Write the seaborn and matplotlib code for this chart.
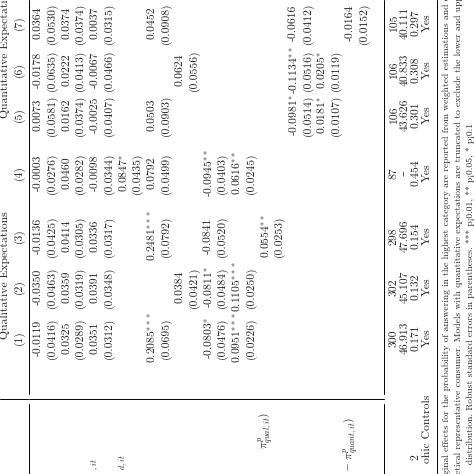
import matplotlib
matplotlib.use("Agg")
import matplotlib.pyplot as plt
import seaborn as sns

# regression table, rotated 90 degrees in the source page
col_labels = ["(1)", "(2)", "(3)", "(4)", "(5)", "(6)", "(7)"]
# each entry: (variable slot, coefficient, standard error)
col1 = [(0, "-0.0119", "(0.0416)"), (1, "0.0325", "(0.0289)"), (2, "0.0351", "(0.0312)"),
        (4, "0.2085***", "(0.0695)"), (6, "-0.0803*", "(0.0476)"), (7, "0.0951***", "(0.0226)")]
col2 = [(0, "-0.0350", "(0.0463)"), (1, "0.0359", "(0.0319)"), (2, "0.0391", "(0.0348)"),
        (5, "0.0384", "(0.0421)"), (6, "-0.0811*", "(0.0484)"), (7, "0.1105***", "(0.0250)")]
col3 = [(0, "-0.0136", "(0.0425)"), (1, "0.0414", "(0.0305)"), (2, "0.0336", "(0.0317)"),
        (4, "0.2481***", "(0.0792)"), (6, "-0.0841", "(0.0520)"), (8, "0.0554**", "(0.0253)")]
col4 = [(0, "-0.0003", "(0.0276)"), (1, "0.0460", "(0.0282)"), (2, "-0.0098", "(0.0344)"),
        (3, "0.0847*", "(0.0435)"), (4, "0.0792", "(0.0499)"), (6, "-0.0945**", "(0.0403)"),
        (7, "0.0616**", "(0.0245)")]
col5 = [(0, "0.0073", "(0.0581)"), (1, "0.0162", "(0.0374)"), (2, "-0.0025", "(0.0407)"),
        (4, "0.0503", "(0.0903)"), (9, "-0.0981*", "(0.0514)"), (10, "0.0181*", "(0.0107)")]
col6 = [(0, "-0.0178", "(0.0635)"), (1, "0.0222", "(0.0413)"), (2, "-0.0067", "(0.0466)"),
        (5, "0.0624", "(0.0556)"), (9, "-0.1134**", "(0.0516)"), (10, "0.0205*", "(0.0119)")]
col7 = [(0, "0.0364", "(0.0530)"), (1, "0.0374", "(0.0374)"), (2, "0.0037", "(0.0315)"),
        (4, "0.0452", "(0.0908)"), (9, "-0.0616", "(0.0412)"), (11, "-0.0164", "(0.0152)")]
columns = [col1, col2, col3, col4, col5, col6, col7]

obs = ["300", "302", "298", "87", "106", "106", "105"]
chi2 = ["46.913", "45.107", "47.696", "–", "43.626", "40.833", "40.111"]
r2 = ["0.171", "0.132", "0.154", "0.454", "0.301", "0.308", "0.297"]
controls = ["Yes"] * 7

# visible right-hand ends of the row labels (the page is cut at the left)
row_tails = {2: (4, r"$_{,it}$"), 3: (4, r"$_{d,it}$"),
             8: (25, r"$\pi^p_{qual,it})$"), 11: (2, r"$-\ \pi^p_{quant,it})$")}
stat_tails = [None, None, (14, "2"), (11, "ohic Controls")]

footnote = [
    "ginal effects for the probability of answering in the highest category are reported from weighted estimations and every",
    "etical representative consumer. Models with quantitative expectations are truncated to exclude the lower and upper",
    "   distribution. Robust standard errors in parentheses. *** p<0.01, ** p<0.05, * p<0.1",
]

sns.set_theme(style="white")
plt.rcParams["font.family"] = ["cmr10", "DejaVu Serif"]
plt.rcParams["mathtext.fontset"] = "cm"
plt.rcParams["axes.formatter.use_mathtext"] = True

W = 474
fig = plt.figure(figsize=(4.74, 4.74), dpi=100)
ax = fig.add_axes([0, 0, 1, 1])
ax.set_xlim(0, W)
ax.set_ylim(W, 0)
ax.axis("off")

FS = 8.4
col_u = [136, 187, 238, 301, 359, 404, 451]   # upright horizontal centres
r0, dr = 38, 14.2                              # upright vertical of first row, row step


def put(u, v, s, ha="center", size=FS):
    # upright (u right, v down) -> page rotated 90 deg counter-clockwise
    va = {"center": "center", "left": "bottom", "right": "top"}[ha]
    ax.text(v, W - u, s, rotation=90, ha="center", va=va, fontsize=size, clip_on=True)


def stars(s):
    base = s.rstrip("*")
    n = len(s) - len(base)
    return base + (r"$^{" + "*" * n + "}$" if n else "")


def hline(v, u0, u1):
    ax.plot([v, v], [W - u0, W - u1], color="black", lw=0.7)


def vline(u, v0, v1):
    ax.plot([v0, v1], [W - u, W - u], color="black", lw=0.7)


# header
put(199, 5, "Qualitative Expectations")
put(424, 5, "Quantitative Expectations")
for u, lab in zip(col_u, col_labels):
    put(u, 19, lab)
hline(29, 0, 70)
hline(29, 80, W)
vline(75, 29, 384)
vline(75, 0, 28)

# coefficients
for u, col in zip(col_u, columns):
    for slot, coef, se in col:
        put(u, r0 + 2 * slot * dr, stars(coef))
        put(u, r0 + (2 * slot + 1) * dr, se)

for slot, (u, lab) in row_tails.items():
    put(u, r0 + 2 * slot * dr, lab, ha="left")

# statistics block
hline(384, 0, 70)
hline(384, 80, W)
stat_v = [394, 405, 416, 427]
for i, vals in enumerate([obs, chi2, r2, controls]):
    for u, s in zip(col_u, vals):
        put(u, stat_v[i], s)
    if stat_tails[i]:
        put(stat_tails[i][0], stat_v[i], stat_tails[i][1], ha="left")
hline(437, 0, W)

for i, line in enumerate(footnote):
    put(0, 447 + 12 * i, line, ha="left", size=6.9)

fig.savefig("out.png", dpi=100)
